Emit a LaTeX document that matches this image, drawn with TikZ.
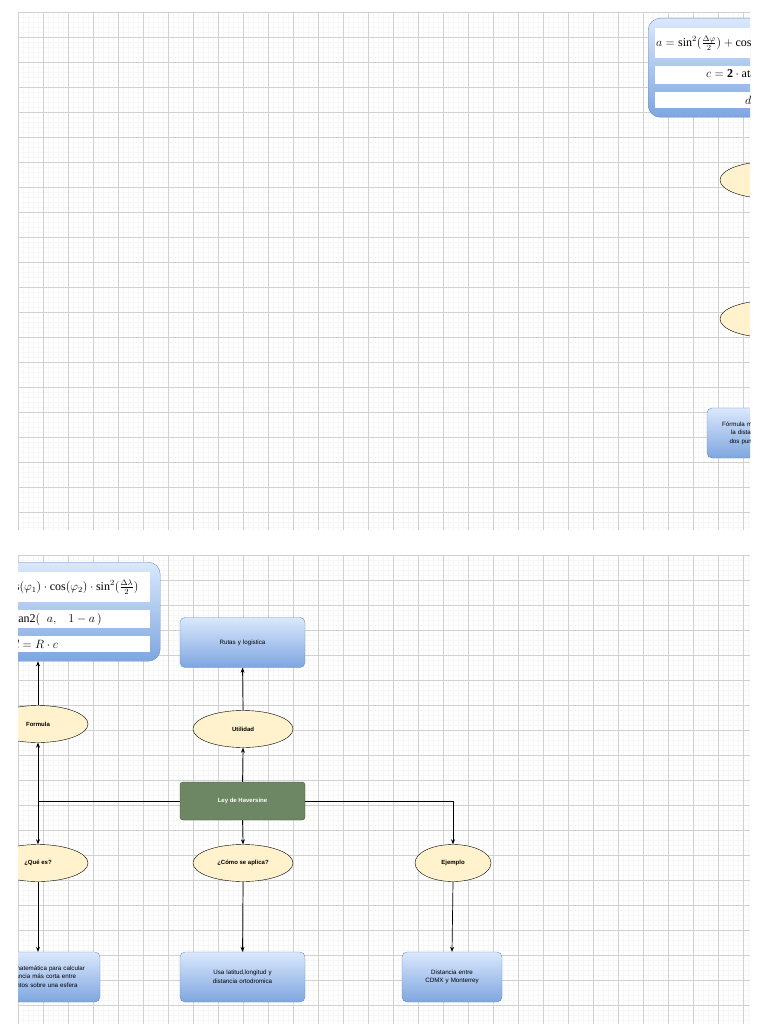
\documentclass[tikz,border=0pt]{standalone}
\usepackage{fontspec}
\setsansfont{Liberation Sans}
\setmainfont{Liberation Serif}
\usetikzlibrary{shapes.geometric,arrows.meta}
\definecolor{bbord}{HTML}{6C8EBF}
\definecolor{btop}{HTML}{DAE8FC}
\definecolor{bbot}{HTML}{7EA6E0}
\definecolor{ybg}{HTML}{FFF2CC}
\definecolor{gfill}{HTML}{6D8764}
\definecolor{gbord}{HTML}{3A5431}
\hyphenpenalty=10000
\exhyphenpenalty=10000
\tikzset{
 bluebox/.style={draw=bbord,rounded corners=5pt,top color=btop,bottom color=bbot,minimum width=125pt,minimum height=50pt,inner sep=1pt,align=center,font=\sffamily\fontsize{6.2}{8.5}\selectfont,text width=123pt},
 yell/.style={ellipse,draw=black,fill=ybg,minimum width=100pt,minimum height=37pt,font=\sffamily\bfseries\fontsize{6}{7}\selectfont},
 con/.style={-{Stealth[length=5pt,width=4pt]},line width=0.7pt},
 grd/.style={draw=black!18,line width=0.5pt},
 mgrd/.style={draw=black!3,line width=0.3pt},
 fml/.style={anchor=west,font=\fontsize{12}{14}\selectfont,inner sep=0pt}
}
\newcommand{\mydiagram}{%
 \node[draw=bbord,rounded corners=12pt,top color=btop,bottom color=bbot,minimum width=244pt,minimum height=99pt,anchor=north west] (fb) at (-84,562) {};
 \fill[white] (-77,572) rectangle (150,602);
 \fill[white] (-77,610) rectangle (150,628);
 \fill[white] (-77,636) rectangle (150,652);
 \node[fml] (f1) at (-76,587) {$a=\sin^2(\frac{\Delta\varphi}{2})+\cos(\varphi_1)\cdot\cos(\varphi_2)\cdot\sin^2(\frac{\Delta\lambda}{2})$};
 \node[fml] (f2) at (-26,619) {$c=\mathbf{2}\cdot\mathrm{atan2}(\;\;a,\;\;\;1-a\,)$};
 \node[fml] (f3) at (13,644) {$d=R\cdot c$};
 \node[yell] (formula) at (38,724) {Formula};
 \node[yell] (que) at (38,863) {¿Qué es?};
 \node[bluebox] (def) at (37.5,977) {Fórmula matemática para calcular la distancia más corta entre dos puntos sobre una esfera};
 \node[draw=gbord,fill=gfill,rounded corners=3pt,minimum width=125pt,minimum height=38pt,text=white,font=\sffamily\bfseries\fontsize{6}{7}\selectfont] (ley) at (242.5,801) {Ley de Haversine};
 \node[yell] (util) at (243,729) {Utilidad};
 \node[bluebox] (rutas) at (242.5,642.5) {Rutas y logistica};
 \node[yell] (como) at (243,863) {¿Cómo se aplica?};
 \node[bluebox,text width=110pt] (usa) at (242.5,977) {Usa latitud,longitud y distancia ortodromica};
 \node[bluebox,minimum width=100pt,text width=88pt] (dist) at (452,977) {Distancia entre CDMX y Monterrey};
 \node[yell,minimum width=76pt] (ej) at (453,863) {Ejemplo};
 \draw[con] (ley.west) -| (formula.south);
 \draw[con] (ley.west) -| (que.north);
 \draw[con] (formula.north) -- (formula.north |- fb.south);
 \draw[con] (que.south) -- (que.south |- def.north);
 \draw[con] (ley.north) -- (util.south);
 \draw[con] (util.north) -- (rutas.south);
 \draw[con] (ley.south) -- (como.north);
 \draw[con] (como.south) -- (usa.north);
 \draw[con] (ley.east) -| (ej.north);
 \draw[con] (ej.south) -- (dist.north);
}
\begin{document}
\begin{tikzpicture}[x=1pt,y=-1pt]
\useasboundingbox (0,0) rectangle (768,1024);
\fill[white] (0,0) rectangle (768,1024);
\foreach \gx in {18,23,...,750} {\draw[mgrd] (\gx,12) -- (\gx,530); \draw[mgrd] (\gx,555) -- (\gx,1024);}
\foreach \gy in {12,17,...,530} {\draw[mgrd] (18,\gy) -- (750,\gy);}
\foreach \gy in {555,560,...,1024} {\draw[mgrd] (18,\gy) -- (750,\gy);}
\foreach \gx in {18,43,...,750} {\draw[grd] (\gx,12) -- (\gx,530); \draw[grd] (\gx,555) -- (\gx,1024);}
\foreach \gy in {12,37,...,530} {\draw[grd] (18,\gy) -- (750,\gy);}
\foreach \gy in {555,580,...,1024} {\draw[grd] (18,\gy) -- (750,\gy);}
\begin{scope}
 \clip (18,12) rectangle (750,530);
 \begin{scope}[shift={(732,-544)},name prefix=top-]
  \mydiagram
 \end{scope}
\end{scope}
\begin{scope}
 \clip (18,555) rectangle (750,1024);
 \begin{scope}[name prefix=bot-]
  \mydiagram
 \end{scope}
\end{scope}
\end{tikzpicture}
\end{document}
